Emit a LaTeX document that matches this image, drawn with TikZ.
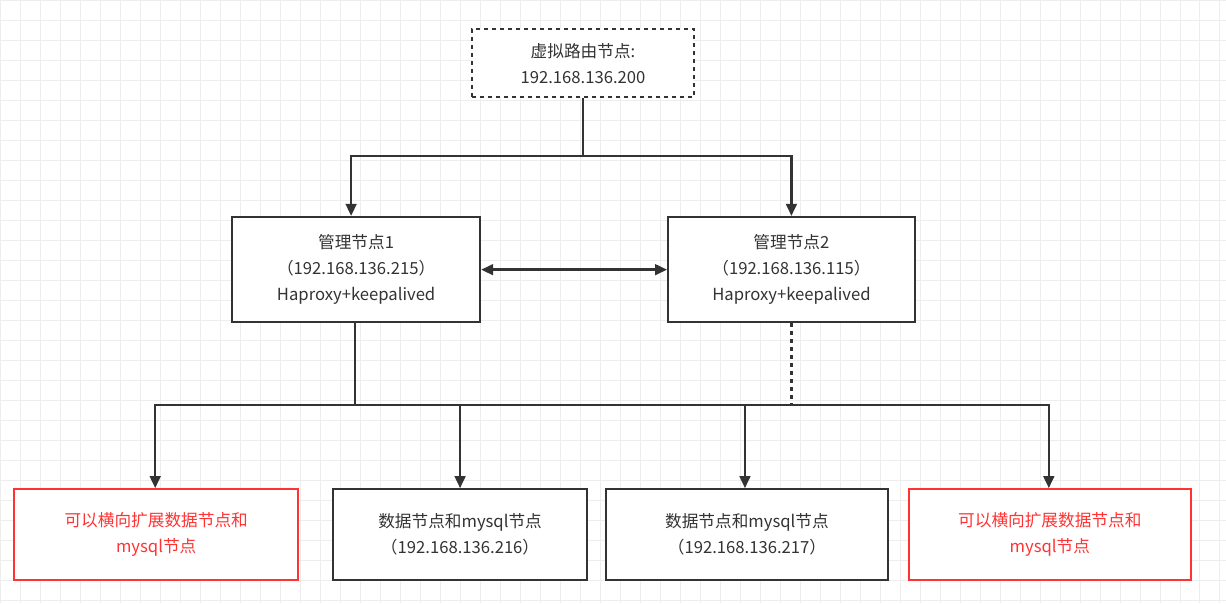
\documentclass[tikz,border=0pt]{standalone}
\usepackage{fontspec}
\setmainfont{Noto Sans CJK SC}
\usetikzlibrary{arrows.meta}
\definecolor{ln}{HTML}{333333}
\definecolor{rd}{HTML}{FF3333}
\begin{document}
\begin{tikzpicture}[x=0.75pt,y=-0.75pt,
  box/.style={draw=ln,line width=1.6pt,fill=white,align=center,inner sep=0pt,
    font=\fontsize{12.5}{19.5}\selectfont,text=ln},
  rbox/.style={box,draw=rd,text=rd},
  con/.style={draw=ln,line width=1.8pt},
  arr/.style={con,-{Triangle[length=9pt,width=8pt]}}]
\fill[white] (0,0) rectangle (1226,603);
\foreach \i in {0,20,...,1220} \draw[black!7,line width=0.4pt] (\i,0) -- (\i,603);
\foreach \j in {0,20,...,600} \draw[black!7,line width=0.4pt] (0,\j) -- (1226,\j);
\useasboundingbox (0,0) rectangle (1226,603);
\node[box,dashed,minimum width=166.5pt,minimum height=51pt] (v) at (583,63) {虚拟路由节点:\\192.168.136.200};
\node[box,minimum width=186pt,minimum height=79pt] (m1) at (356,269.5) {管理节点1\\（192.168.136.215）\\Haproxy+keepalived};
\node[box,minimum width=185pt,minimum height=79pt] (m2) at (791.5,269.5) {管理节点2\\（192.168.136.115）\\Haproxy+keepalived};
\node[rbox,minimum width=213pt,minimum height=68pt] (r1) at (156,534.5) {可以横向扩展数据节点和\\mysql节点};
\node[box,minimum width=190.5pt,minimum height=68pt] (d1) at (460,534.5) {数据节点和mysql节点\\（192.168.136.216）};
\node[box,minimum width=211.5pt,minimum height=68pt] (d2) at (747,534.5) {数据节点和mysql节点\\（192.168.136.217）};
\node[rbox,minimum width=211.5pt,minimum height=68pt] (r2) at (1050,534.5) {可以横向扩展数据节点和\\mysql节点};
\coordinate (t) at (583,156);
\coordinate (b) at (355,405);
\draw[con] (v.south) -- (t);
\draw[arr] (t) -| (m1.north -| 351,0);
\draw[arr] (t) -| (m2.north);
\draw[con,{Triangle[length=9pt,width=8pt]}-{Triangle[length=9pt,width=8pt]}] (m1) -- (m2);
\draw[con] (m1.south -| b) -- (b);
\draw[con,dashed] (m2.south) |- (b);
\draw[arr] (b) -| (r1.north -| 155,0);
\draw[arr] (b) -| (d1.north);
\draw[arr] (b) -| (d2.north -| 745,0);
\draw[arr] (b) -| (r2.north -| 1049,0);
\end{tikzpicture}
\end{document}
